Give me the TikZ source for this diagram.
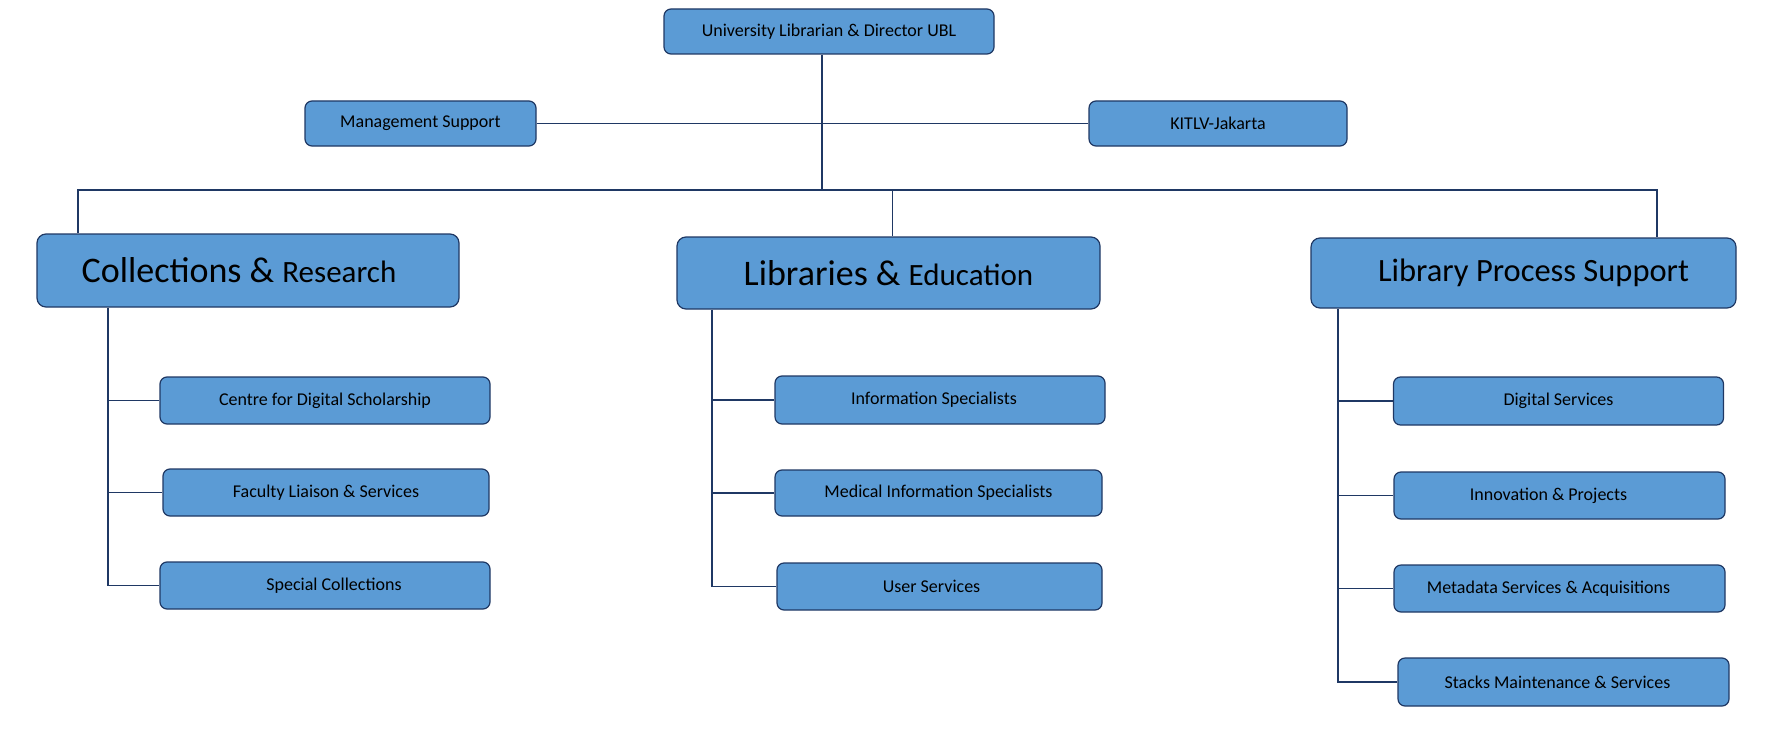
\documentclass[tikz,border=0pt]{standalone}
\usepackage{fontspec}
\setmainfont{Carlito}
\usepackage{xcolor}
\usetikzlibrary{positioning,calc}

\definecolor{boxblue}{HTML}{5B9BD5}
\definecolor{navy}{HTML}{1F3864}

\begin{document}
\begin{tikzpicture}[
    x=1pt, y=-1pt,
    box/.style={draw=navy, fill=boxblue, line width=1.2pt, rounded corners=7pt,
                minimum width=330pt, minimum height=47pt, inner sep=0pt,
                align=center, font=\fontsize{18}{21}\selectfont},
    headbox/.style={box, minimum width=423pt, minimum height=72pt, rounded corners=9pt,
                font=\fontsize{36}{40}\selectfont},
    link/.style={draw=navy, line width=1.6pt},
  ]
  \useasboundingbox (0,0) rectangle (1776,749);

  \node[box, minimum height=45pt] (top) at (829,31.5) {University Librarian \& Director UBL};
  \node[box, minimum width=231pt, minimum height=45pt] (mgmt) at (420.5,123.5) {Management Support};
  \node[box, minimum width=258pt, minimum height=45pt] (kitlv) at (1218,123.5) {KITLV-Jakarta};

  \node[headbox, minimum width=422pt, minimum height=73pt] (cr) at (248,270.5)
    {Collections \& {\fontsize{31}{36}\selectfont Research}\hspace*{18pt}};
  \node[headbox] (le) at (888.5,273)
    {Libraries \& {\fontsize{31}{36}\selectfont Education}};
  \node[headbox, minimum width=425pt, minimum height=70pt, font=\fontsize{32.5}{38}\selectfont] (lps) at (1523.5,273)
    {\hspace*{20pt}Library Process Support};

  \node[box] (cds) at (325,400.5) {Centre for Digital Scholarship};
  \node[box, minimum width=326pt] (fls) at (326,492.5) {Faculty Liaison \& Services};
  \node[box] (sc) at (325,585.5) {\hspace*{18pt}Special Collections};

  \node[box, minimum height=48pt] (is) at (940,400) {Information Specialists\hspace*{12pt}};
  \node[box, minimum width=327pt, minimum height=46pt] (mis) at (938.5,493) {Medical Information Specialists};
  \node[box, minimum width=325pt] (us) at (939.5,586.5) {User Services\hspace*{16pt}};

  \node[box, minimum height=48pt] (ds) at (1558.5,401) {Digital Services};
  \node[box, minimum width=331pt] (ip) at (1559.5,495.5) {Innovation \& Projects\hspace*{22pt}};
  \node[box, minimum width=331pt] (md) at (1559.5,588.5) {Metadata Services \& Acquisitions\hspace*{22pt}};
  \node[box, minimum width=331pt, minimum height=48pt] (sm) at (1563.5,682) {Stacks Maintenance \& Services\hspace*{12pt}};

  \coordinate (hub) at (822,190);
  \coordinate (barL) at (78,190);
  \coordinate (barR) at (1657,190);
  \coordinate (stemA) at (108,0);
  \coordinate (stemB) at (712,0);
  \coordinate (stemC) at (1338,0);

  \draw[link] (top.south -| hub) -- (hub);
  \draw[link] (mgmt.east) -- (kitlv.west);
  \draw[link] (barL |- cr.north) -- (barL) -- (barR) -- (barR |- lps.north);
  \draw[link] ([xshift=4pt]le.north) -- ([xshift=4pt]le.north |- hub);

  \draw[link] (stemA |- cr.south) -- (stemA |- sc.west) -- (sc.west);
  \foreach \n in {cds,fls} \draw[link] (stemA |- \n.west) -- (\n.west);
  \draw[link] (stemB |- le.south) -- (stemB |- us.west) -- (us.west);
  \foreach \n in {is,mis} \draw[link] (stemB |- \n.west) -- (\n.west);
  \draw[link] (stemC |- lps.south) -- (stemC |- sm.west) -- (sm.west);
  \foreach \n in {ds,ip,md} \draw[link] (stemC |- \n.west) -- (\n.west);
\end{tikzpicture}
\end{document}
